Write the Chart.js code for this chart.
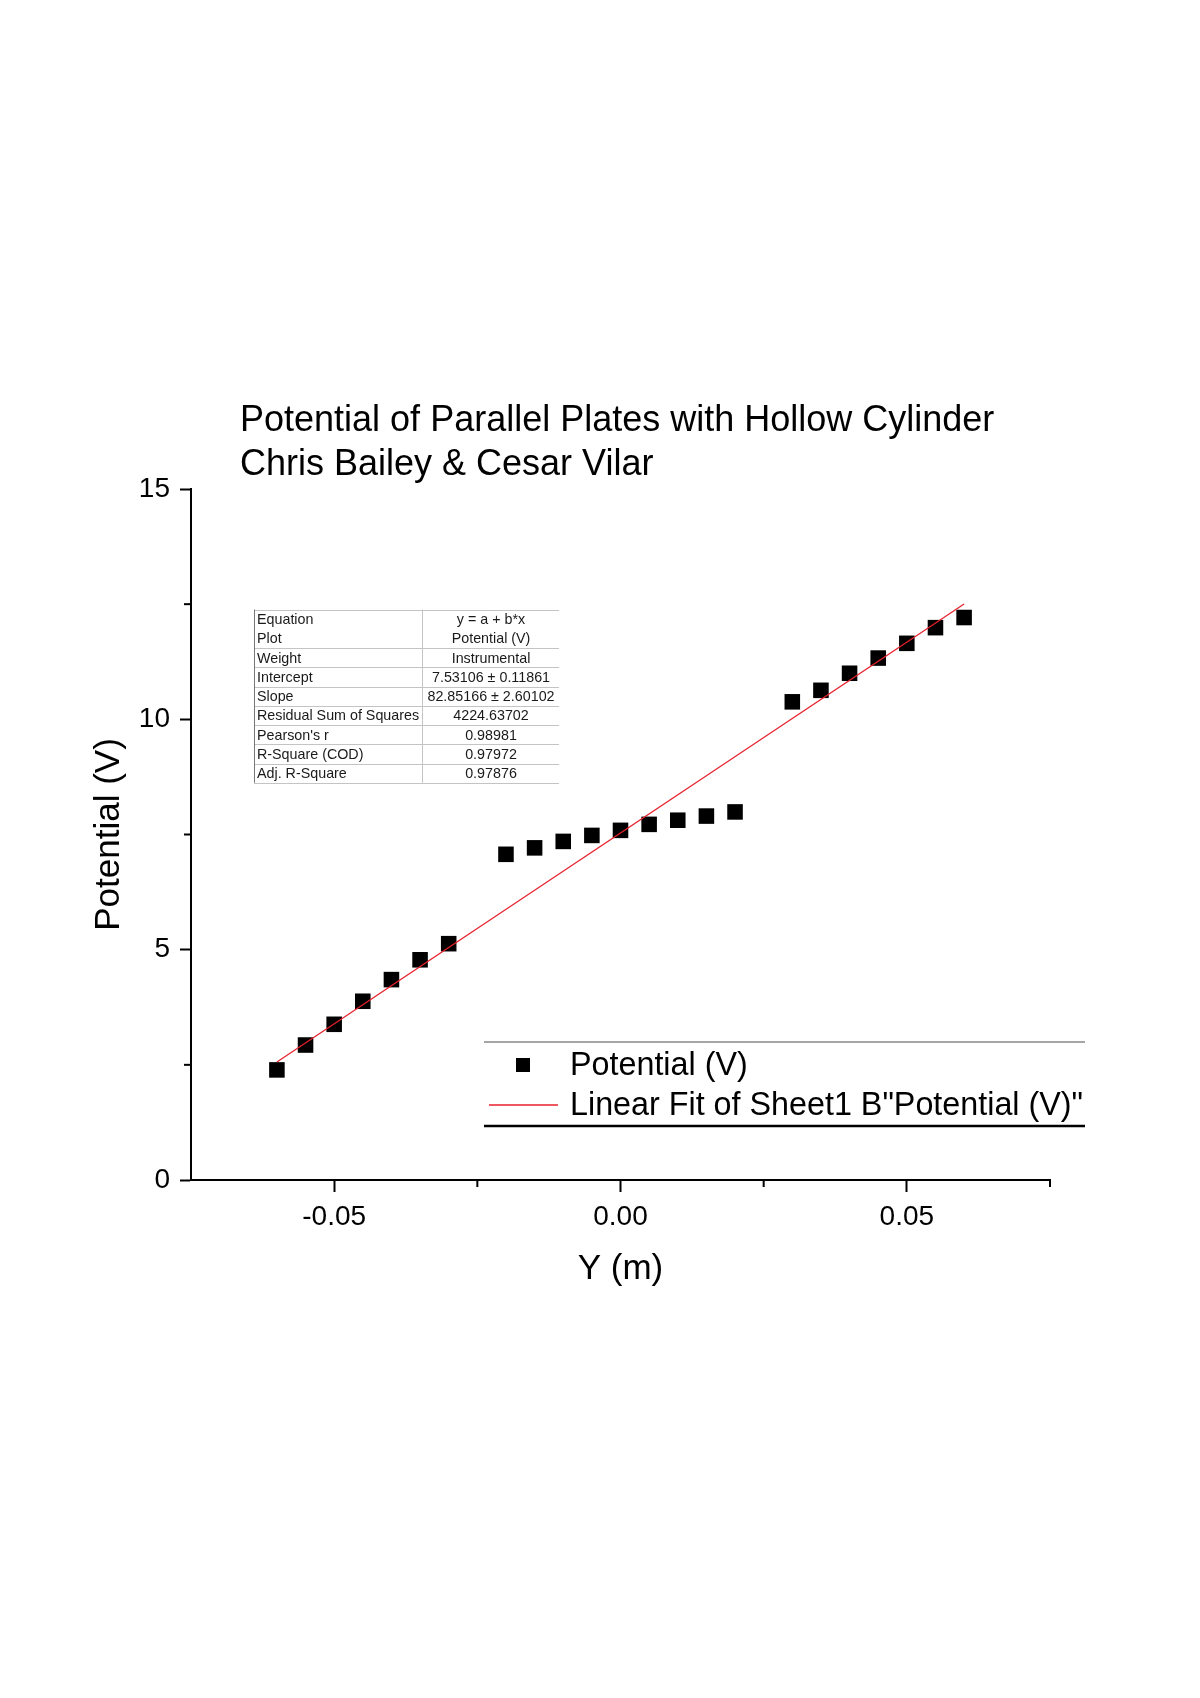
<!DOCTYPE html>
<html><head><meta charset="utf-8">
<script src="https://cdn.jsdelivr.net/npm/chart.js@4"></script>
<style>html,body{margin:0;padding:0;background:#fff}#wrap{width:1200px;height:1698px;position:relative}</style>
</head><body><div id="wrap"><canvas id="c" width="1200" height="1698"></canvas></div>
<script>
const titleLines = ["Potential of Parallel Plates with Hollow Cylinder", "Chris Bailey & Cesar Vilar"];
const xAxisTitle = "Y (m)";
const yAxisTitle = "Potential (V)";
const yPositions = [-0.06, -0.055, -0.05, -0.045, -0.04, -0.035, -0.03,
  -0.02, -0.015, -0.01, -0.005, 0, 0.005, 0.01, 0.015, 0.02,
  0.03, 0.035, 0.04, 0.045, 0.05, 0.055, 0.06];
const potentials = [2.39, 2.93, 3.38, 3.88, 4.35, 4.78, 5.13,
  7.07, 7.21, 7.35, 7.48, 7.59, 7.72, 7.81, 7.90, 7.99,
  10.38, 10.63, 11.00, 11.33, 11.65, 11.99, 12.21];
const fitX = [-0.06, 0.06];
const fitY = [2.55996, 12.50216];
const xTicks = [-0.05, 0, 0.05];
const xMinorTicks = [-0.025, 0.025, 0.075];
const yTicks = [0, 5, 10, 15];
const yMinorTicks = [2.5, 7.5, 12.5];
const seriesLabels = ["Potential (V)", 'Linear Fit of Sheet1 B"Potential (V)"'];
const statLabels = ["Equation", "Plot", "Weight", "Intercept", "Slope", "Residual Sum of Squares", "Pearson's r", "R-Square (COD)", "Adj. R-Square"];
const statValues = ["y = a + b*x", "Potential (V)", "Instrumental", "7.53106 \u00b1 0.11861", "82.85166 \u00b1 2.60102", "4224.63702", "0.98981", "0.97972", "0.97876"];

const FAM = "'Liberation Sans', Arial, Helvetica, sans-serif";

const extras = {
  id: 'extras',
  afterDraw(chart) {
    const ctx = chart.ctx;
    const xs = chart.scales.x, ys = chart.scales.y;
    const area = chart.chartArea;
    ctx.save();
    // minor ticks
    ctx.strokeStyle = '#000';
    ctx.lineWidth = 2;
    xMinorTicks.forEach(v => {
      const px = xs.getPixelForValue(v);
      ctx.beginPath(); ctx.moveTo(px, area.bottom); ctx.lineTo(px, area.bottom + 7); ctx.stroke();
    });
    yMinorTicks.forEach(v => {
      const py = ys.getPixelForValue(v);
      ctx.beginPath(); ctx.moveTo(area.left, py); ctx.lineTo(area.left - 7, py); ctx.stroke();
    });
    // title
    ctx.fillStyle = '#000';
    ctx.font = '36px ' + FAM;
    ctx.textAlign = 'left';
    ctx.textBaseline = 'alphabetic';
    ctx.fillText(titleLines[0], 240, 431);
    ctx.fillText(titleLines[1], 240, 475);
    // stats table
    const tL = 254, tR = 559, tT = 609.5, rh = 19.25, colX = 422;
    const n = statLabels.length;
    ctx.strokeStyle = '#c4c4c4';
    ctx.lineWidth = 1;
    for (let i = 0; i <= n; i++) {
      if (i === 1) continue;
      const y = Math.round(tT + i * rh) + 0.5;
      ctx.beginPath(); ctx.moveTo(tL, y); ctx.lineTo(tR, y); ctx.stroke();
    }
    ctx.beginPath(); ctx.moveTo(colX + 0.5, tT); ctx.lineTo(colX + 0.5, tT + n * rh); ctx.stroke();
    ctx.strokeStyle = '#777';
    ctx.beginPath(); ctx.moveTo(tL + 0.5, tT); ctx.lineTo(tL + 0.5, tT + n * rh); ctx.stroke();
    ctx.font = '14.3px ' + FAM;
    ctx.fillStyle = '#1a1a1a';
    ctx.textBaseline = 'middle';
    for (let i = 0; i < n; i++) {
      const cy = tT + i * rh + rh / 2 + 1;
      ctx.textAlign = 'left';
      ctx.fillText(statLabels[i], tL + 3, cy);
      ctx.textAlign = 'center';
      ctx.fillText(statValues[i], 491, cy);
    }
    // legend
    ctx.strokeStyle = '#888';
    ctx.lineWidth = 1.5;
    ctx.beginPath(); ctx.moveTo(484, 1042); ctx.lineTo(1085, 1042); ctx.stroke();
    ctx.strokeStyle = '#000';
    ctx.lineWidth = 2.5;
    ctx.beginPath(); ctx.moveTo(484, 1126); ctx.lineTo(1085, 1126); ctx.stroke();
    ctx.fillStyle = '#000';
    ctx.fillRect(516, 1058, 14, 14);
    ctx.strokeStyle = '#e8202a';
    ctx.lineWidth = 1.5;
    ctx.beginPath(); ctx.moveTo(489, 1105); ctx.lineTo(558, 1105); ctx.stroke();
    ctx.font = '32.3px ' + FAM;
    ctx.textAlign = 'left';
    ctx.textBaseline = 'middle';
    ctx.fillStyle = '#000';
    ctx.fillText(seriesLabels[0], 570, 1066);
    ctx.fillText(seriesLabels[1], 570, 1106);
    ctx.restore();
  }
};

new Chart(document.getElementById('c'), {
  type: 'scatter',
  data: {
    datasets: [
      {
        label: seriesLabels[1],
        data: fitX.map((x, i) => ({x, y: fitY[i]})),
        showLine: true,
        pointRadius: 0,
        borderColor: '#e8202a',
        borderWidth: 1.3,
        order: 0
      },
      {
        label: seriesLabels[0],
        data: yPositions.map((x, i) => ({x, y: potentials[i]})),
        pointStyle: 'rect',
        pointRadius: 11,
        backgroundColor: '#000',
        borderColor: '#000',
        borderWidth: 0,
        order: 1
      }
    ]
  },
  options: {
    responsive: false,
    animation: false,
    devicePixelRatio: 1,
    layout: {padding: {left: 0, top: 489, right: 150, bottom: 408}},
    plugins: {legend: {display: false}, tooltip: {enabled: false}, title: {display: false}},
    scales: {
      x: {
        type: 'linear', min: -0.075, max: 0.075,
        afterBuildTicks: s => { s.ticks = xTicks.map(v => ({value: v})); },
        afterFit: s => { s.height = 110; },
        ticks: {callback: v => Number(v).toFixed(2), font: {size: 28, family: FAM}, color: '#000', padding: 8, maxRotation: 0, autoSkip: false},
        grid: {display: true, drawOnChartArea: false, drawTicks: true, tickLength: 12, tickColor: '#000', tickWidth: 2},
        border: {display: true, color: '#000', width: 2},
        title: {display: true, text: xAxisTitle, font: {size: 35, family: FAM}, color: '#000', padding: 0}
      },
      y: {
        type: 'linear', min: 0, max: 15,
        afterBuildTicks: s => { s.ticks = yTicks.map(v => ({value: v})); },
        afterFit: s => { s.width = 191; },
        ticks: {callback: v => String(v), font: {size: 28, family: FAM}, color: '#000', padding: 10, autoSkip: false},
        grid: {display: true, drawOnChartArea: false, drawTicks: true, tickLength: 11, tickColor: '#000', tickWidth: 2},
        border: {display: true, color: '#000', width: 2},
        title: {display: true, text: yAxisTitle, font: {size: 35, family: FAM}, color: '#000', padding: {top: 88, bottom: 0}}
      }
    }
  },
  plugins: [extras]
});
</script>
</body></html>
